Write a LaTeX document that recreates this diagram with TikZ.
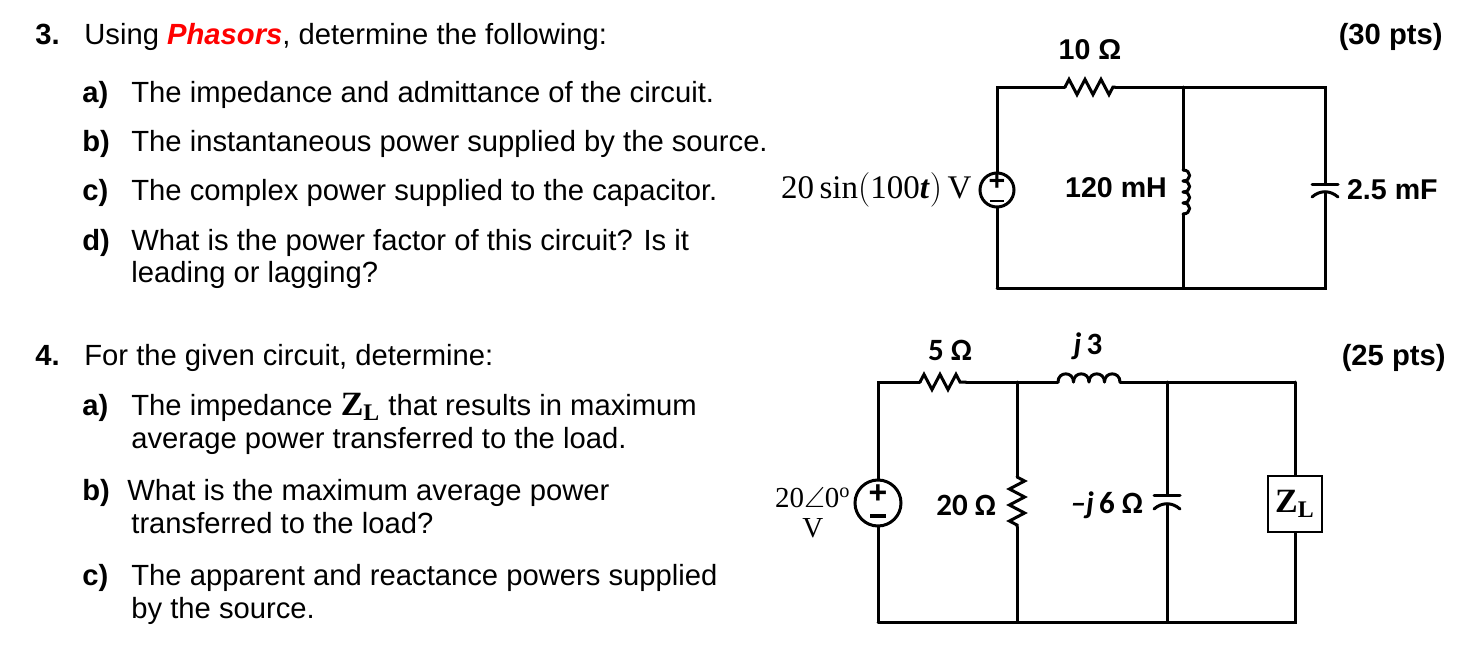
\documentclass[tikz,border=0pt]{standalone}
\usepackage{fontspec}
\setmainfont{Liberation Sans}
\newfontfamily\serif{Liberation Serif}
\newfontfamily\cali{Carlito}
\usepackage{amssymb}
\usetikzlibrary{positioning, decorations.pathmorphing}
\tikzset{
  wire/.style = {line width=1.5pt, line cap=round},
  res/.style = {wire, decorate, decoration={zigzag, segment length=8pt, amplitude=3.8pt}},
  Src/.style = {circle, draw, line width=1.5pt, fill=white, minimum size=#1, inner sep=0pt},
  Txt/.style = {anchor=base west, inner sep=0pt, font=\fontsize{14.6}{17}\selectfont},
  Lbl/.style = {font=\fontsize{14.3}{16}\selectfont\bfseries},
  Cal/.style = {font=\fontsize{15.5}{17}\selectfont\cali\bfseries}
}
\newcommand{\coilup}[3]{% start (#1,#2), bump length #3, four bumps bulging right
  \foreach \k in {0,...,3}{ \draw[wire] (#1,#2+\k*#3) .. controls (#1+0.8*#3,#2+\k*#3) and (#1+0.8*#3,#2+\k*#3+#3) .. (#1,#2+\k*#3+#3); }}
\newcommand{\coilright}[3]{% start (#1,#2), bump length #3, four bumps bulging up
  \foreach \k in {0,...,3}{ \draw[wire] (#1+\k*#3,#2) .. controls (#1+\k*#3,#2-0.7*#3) and (#1+\k*#3+#3,#2-0.7*#3) .. (#1+\k*#3+#3,#2); }}
\begin{document}
\begin{tikzpicture}[x=0.5pt, y=-0.5pt]
    \useasboundingbox (0,0) rectangle (1480,653);

    %%%%%%%%%%%%%%%%%%%%%%
    \node[Txt] (n3) at (35,45) {\textbf{3.}};
    \node[Txt] (q3) at (84,45) {Using \textcolor{red}{\textbf{\textit{Phasors}}}, determine the following:};
    \node[Txt, anchor=base east] (pts3) at (1443,45) {\textbf{(30 pts)}};
    \node[Txt] (l3a) at (82,102) {\textbf{a)}};
    \node[Txt] (q3a) at (131,102) {The impedance and admittance of the circuit.};
    \node[Txt] (l3b) at (82,151) {\textbf{b)}};
    \node[Txt] (q3b) at (131,151) {The instantaneous power supplied by the source.};
    \node[Txt] (l3c) at (82,200) {\textbf{c)}};
    \node[Txt] (q3c) at (131,200) {The complex power supplied to the capacitor.};
    \node[Txt] (l3d) at (82,250) {\textbf{d)}};
    \node[Txt] (q3d) at (131,250) {What is the power factor of this circuit? Is it};
    \node[Txt] (q3d2) at (131,282) {leading or lagging?};

    % circuit 1
    \coordinate (A1) at (997,87);  \coordinate (B1) at (1183,87);  \coordinate (C1) at (1325,87);
    \coordinate (D1) at (997,288); \coordinate (E1) at (1183,288); \coordinate (F1) at (1325,288);
    \coordinate (r1a) at (1065,87); \coordinate (r1b) at (1115,87);
    \coordinate (l1a) at (1183,170); \coordinate (l1b) at (1183,214);
    \coordinate (c1a) at (1325,184); \coordinate (c1b) at (1325,193);
    \draw[wire] (D1) -- (A1) -- (r1a);
    \draw[res] (r1a) -- (r1b);
    \draw[wire] (r1b) -- (C1) -- (c1a);
    \draw[wire] (B1) -- (l1a);
    \coilup{1183}{170}{11}
    \draw[wire] (l1b) -- (E1);
    \draw[wire] (c1b) -- (F1) -- (D1);
    \draw[wire] (1312,184) -- (1338,184);
    \draw[wire] (1312,197) .. controls (1320,190) and (1330,190) .. (1338,197);
    \node[Src=17pt] (vs1) at (997,190) {};
    \node[Lbl] at (997,182) {+};
    \draw[line width=1.3pt] (990,201) -- (1004,201);
    \node[anchor=east, font=\fontsize{16.5}{18}\selectfont\serif] (vs1lbl) [left=0pt of vs1] {20\,sin$\bigl($100\textbf{\textit{t}}$\bigr)$\,V};
    \node[Lbl] (r1lbl) at (1090,50) {10 Ω};
    \node[Lbl, anchor=east] (l1lbl) at (1174,188) {120 mH};
    \node[Lbl, anchor=west] (c1lbl) at (1340,190) {2.5 mF};

    %%%%%%%%%%%%%%%%%%%%%%
    \node[Txt] (n4) at (35,365) {\textbf{4.}};
    \node[Txt] (q4) at (84,365) {For the given circuit, determine:};
    \node[Txt, anchor=base east] (pts4) at (1446,365) {\textbf{(25 pts)}};
    \node[Txt] (l4a) at (82,415) {\textbf{a)}};
    \node[Txt] (q4a) at (131,415) {The impedance {\fontsize{17}{17}\selectfont\serif\textbf{Z}\textsubscript{\textbf{L}}} that results in maximum};
    \node[Txt] (q4a2) at (131,448) {average power transferred to the load.};
    \node[Txt] (l4b) at (82,500) {\textbf{b)}};
    \node[Txt] (q4b) at (127,500) {What is the maximum average power};
    \node[Txt] (q4b2) at (131,533) {transferred to the load?};
    \node[Txt] (l4c) at (82,585) {\textbf{c)}};
    \node[Txt] (q4c) at (131,585) {The apparent and reactance powers supplied};
    \node[Txt] (q4c2) at (131,618) {by the source.};

    % circuit 2
    \coordinate (A2) at (878,382);  \coordinate (B2) at (1017,382); \coordinate (C2) at (1167,382); \coordinate (G2) at (1295,382);
    \coordinate (D2) at (878,622);  \coordinate (E2) at (1017,622); \coordinate (F2) at (1167,622); \coordinate (H2) at (1295,622);
    \coordinate (r2a) at (920,382); \coordinate (r2b) at (966,382);
    \coordinate (l2a) at (1058,382); \coordinate (l2b) at (1120,382);
    \coordinate (r3a) at (1017,477); \coordinate (r3b) at (1017,527);
    \coordinate (c2a) at (1167,495); \coordinate (c2b) at (1167,505);
    \draw[wire] (D2) -- (A2) -- (r2a);
    \draw[res] (r2a) -- (r2b);
    \draw[wire] (r2b) -- (l2a);
    \coilright{1058}{382}{15.5}
    \draw[wire] (l2b) -- (G2);
    \draw[wire] (B2) -- (r3a);
    \draw[res] (r3a) -- (r3b);
    \draw[wire] (r3b) -- (E2);
    \draw[wire] (C2) -- (c2a);
    \draw[wire] (c2b) -- (F2);
    \draw[wire] (1154,495) -- (1180,495);
    \draw[wire] (1154,509) .. controls (1162,502) and (1172,502) .. (1180,509);
    \node[draw, line width=0.6pt, fill=white, minimum width=27pt, minimum height=28pt, inner sep=0pt,
          font=\fontsize{17}{18}\selectfont\serif\bfseries] (ZL) at (1295,504) {Z\textsubscript{L}};
    \draw[wire] (G2) -- (ZL.north);
    \draw[wire] (ZL.south) -- (H2) -- (D2);
    \node[Src=23pt] (vs2) at (878,503) {};
    \node[Lbl] at (878,494) {\fontsize{16}{16}\selectfont +};
    \draw[line width=1.8pt] (870,516) -- (886,516);
    \node[font=\fontsize{14.5}{15}\selectfont\serif, align=center, anchor=east, inner sep=1pt] (vs2lbl) at (853,513) {20$\angle$0\textsuperscript{o}\\V};
    \node[Cal] (r2lbl) at (950,350) {5 Ω};
    \node[Cal] (l2lbl) at (1088,346) {\textit{j}\,3};
    \node[Cal, anchor=east] (r3lbl) at (1003,505) {20 Ω};
    \node[Cal, anchor=east] (c2lbl) at (1150,505) {\textit{\textendash j}\,6 Ω};

\end{tikzpicture}
\end{document}
